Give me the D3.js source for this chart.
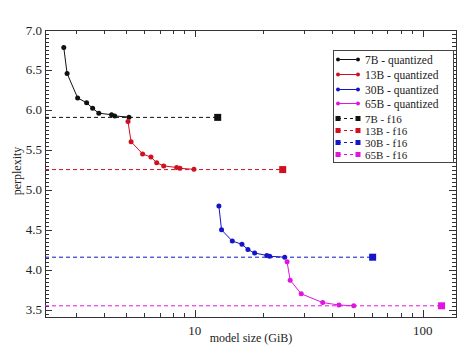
<!DOCTYPE html>
<html lang="en">
    <head>
        <meta charset="utf-8">
        <title>Perplexity vs model size</title>
        <script src="https://d3js.org/d3.v7.min.js"></script>
        <style type="text/css">
            body { margin: 0; background: #fff; }
            text { font-family: "Liberation Serif", "DejaVu Serif", serif; fill: #222; }
            .qline { fill: none; stroke-width: 1px; }
            .fline { fill: none; stroke-width: 1px; stroke-dasharray: 4,3; }
        </style>
    </head>
    <body>
        <script type="text/javascript">

            //Declaring constants
            const w = 474;
            const h = 353;
            const plotL = 45, plotR = 456, plotT = 30, plotB = 317;

            //Data (model size GiB, perplexity)
            const seriesNames = ["7B", "13B", "30B", "65B"];
            const seriesColors = ["#111111", "#d01020", "#1414c8", "#e014e0"];

            const size7B  = [2.66, 2.75, 3.06, 3.35, 3.56, 3.79, 4.31, 4.45, 5.14];
            const ppl7B   = [6.78, 6.457, 6.15, 6.09, 6.02, 5.96, 5.94, 5.925, 5.91];
            const size13B = [5.09, 5.25, 5.90, 6.42, 6.80, 7.30, 8.32, 8.60, 9.91];
            const ppl13B  = [5.855, 5.603, 5.45, 5.41, 5.34, 5.30, 5.28, 5.27, 5.257];
            const size30B = [12.75, 13.1, 14.6, 16.1, 17.1, 18.3, 20.7, 21.3, 24.8];
            const ppl30B  = [4.80, 4.50, 4.36, 4.32, 4.254, 4.21, 4.18, 4.17, 4.158];
            const size65B = [25.4, 26.2, 29.3, 36.4, 42.9, 49.8];
            const ppl65B  = [4.10, 3.87, 3.70, 3.59, 3.56, 3.55];

            const f16Size = [12.6, 24.3, 60.3, 121];
            const f16Ppl  = [5.907, 5.254, 4.158, 3.55];

            const yTicks = [3.5, 4.0, 4.5, 5.0, 5.5, 6.0, 6.5, 7.0];
            const xTicks = [10, 100];

            const quantSizes = [size7B, size13B, size30B, size65B];
            const quantPpls = [ppl7B, ppl13B, ppl30B, ppl65B];

            //scales
            const xScale = d3.scaleLog()
                             .domain([2.2, 140])
                             .range([plotL, plotR]);

            const yScale = d3.scaleLinear()
                             .domain([3.41, 7.0])
                             .range([plotB, plotT]);

            const svg = d3.select("body")
                    .append("svg")
                    .attr("width", w)
                    .attr("height", h)
                    .style("background-color", "white");

            //minor tick values
            const xMinor = [];
            [1, 10, 100].forEach(p => {
                for (let k = 2; k <= 9; k++) {
                    const v = k * p;
                    if (v >= 2.2 && v <= 140) xMinor.push(v);
                }
            });
            const yMinor = d3.range(3.45, 7.0, 0.05).map(v => +v.toFixed(2))
                             .filter(v => Math.abs(v * 2 - Math.round(v * 2)) > 1e-6);

            //frame
            svg.append("rect")
                .attr("x", plotL + 0.5)
                .attr("y", plotT + 0.5)
                .attr("width", plotR - plotL)
                .attr("height", plotB - plotT)
                .attr("fill", "none")
                .attr("stroke", "#333")
                .attr("stroke-width", 1);

            //tick marks, drawn inward on all four sides
            const tickPath = d3.path();
            xTicks.concat(xMinor).forEach(v => {
                const len = xTicks.includes(v) ? 7 : 4;
                const x = Math.round(xScale(v)) + 0.5;
                tickPath.moveTo(x, plotB); tickPath.lineTo(x, plotB - len);
                tickPath.moveTo(x, plotT); tickPath.lineTo(x, plotT + len);
            });
            yTicks.concat(yMinor).forEach(v => {
                const len = yTicks.includes(v) ? 7 : 4;
                const y = Math.round(yScale(v)) + 0.5;
                tickPath.moveTo(plotL, y); tickPath.lineTo(plotL + len, y);
                tickPath.moveTo(plotR, y); tickPath.lineTo(plotR - len, y);
            });
            svg.append("path")
                .attr("d", tickPath.toString())
                .attr("fill", "none")
                .attr("stroke", "#333")
                .attr("stroke-width", 1);

            //tick labels
            yTicks.forEach(v => {
                svg.append("text")
                    .attr("x", plotL - 3)
                    .attr("y", yScale(v) + 4.5)
                    .attr("text-anchor", "end")
                    .attr("font-size", "13px")
                    .text(d3.format(".1f")(v));
            });
            xTicks.forEach(v => {
                svg.append("text")
                    .attr("x", xScale(v))
                    .attr("y", plotB + 18)
                    .attr("text-anchor", "middle")
                    .attr("font-size", "13px")
                    .text(v);
            });

            //f16 dashed lines and squares
            seriesNames.forEach((name, i) => {
                svg.append("line")
                    .attr("class", "fline")
                    .attr("x1", xScale(2.2))
                    .attr("x2", xScale(f16Size[i]))
                    .attr("y1", yScale(f16Ppl[i]))
                    .attr("y2", yScale(f16Ppl[i]))
                    .attr("stroke", seriesColors[i]);
                svg.append("rect")
                    .attr("x", xScale(f16Size[i]) - 3.5)
                    .attr("y", yScale(f16Ppl[i]) - 3.5)
                    .attr("width", 7)
                    .attr("height", 7)
                    .attr("fill", seriesColors[i]);
            });

            //quantized lines
            const line = d3.line()
                           .x(d => xScale(d[0]))
                           .y(d => yScale(d[1]));

            seriesNames.forEach((name, i) => {
                const pts = quantSizes[i].map((s, j) => [s, quantPpls[i][j]]);
                svg.append("path")
                    .attr("class", "qline")
                    .attr("d", line(pts))
                    .attr("stroke", seriesColors[i]);
                svg.selectAll(".pt" + i)
                    .data(pts)
                    .enter()
                    .append("circle")
                    .attr("cx", d => xScale(d[0]))
                    .attr("cy", d => yScale(d[1]))
                    .attr("r", 2.5)
                    .attr("fill", seriesColors[i]);
            });

            //legend
            const lg = svg.append("g").attr("transform", "translate(333,50)");
            lg.append("rect")
                .attr("x", 0.5)
                .attr("y", 0.5)
                .attr("width", 120)
                .attr("height", 112)
                .attr("fill", "white")
                .attr("stroke", "#444")
                .attr("stroke-width", 1);

            const qY = [9.5, 24.5, 39.5, 53.5];
            const fY = [68.5, 80.5, 92.5, 104.5];
            seriesNames.forEach((name, i) => {
                lg.append("line")
                    .attr("x1", 5).attr("x2", 25)
                    .attr("y1", qY[i]).attr("y2", qY[i])
                    .attr("stroke", seriesColors[i]);
                [5, 25].forEach(x => lg.append("circle")
                    .attr("cx", x).attr("cy", qY[i]).attr("r", 2)
                    .attr("fill", seriesColors[i]));
                lg.append("text")
                    .attr("x", 32)
                    .attr("y", qY[i] + 4)
                    .attr("font-size", "11.5px")
                    .text(name + " - quantized");

                lg.append("line")
                    .attr("class", "fline")
                    .attr("x1", 5).attr("x2", 25)
                    .attr("y1", fY[i]).attr("y2", fY[i])
                    .attr("stroke", seriesColors[i])
                    .style("stroke-dasharray", "3,3");
                [5, 25].forEach(x => lg.append("rect")
                    .attr("x", x - 2.5).attr("y", fY[i] - 2.5)
                    .attr("width", 5).attr("height", 5)
                    .attr("fill", seriesColors[i]));
                lg.append("text")
                    .attr("x", 32)
                    .attr("y", fY[i] + 4)
                    .attr("font-size", "11px")
                    .text(name + " - f16");
            });

            //axis titles
            svg.append("text")
                .attr("x", 251)
                .attr("y", 342)
                .attr("text-anchor", "middle")
                .attr("font-size", "12px")
                .text("model size (GiB)");

            svg.append("text")
                .attr("transform", "translate(21,171) rotate(-90)")
                .attr("text-anchor", "middle")
                .attr("font-size", "12px")
                .text("perplexity");

        </script>
    </body>
</html>
